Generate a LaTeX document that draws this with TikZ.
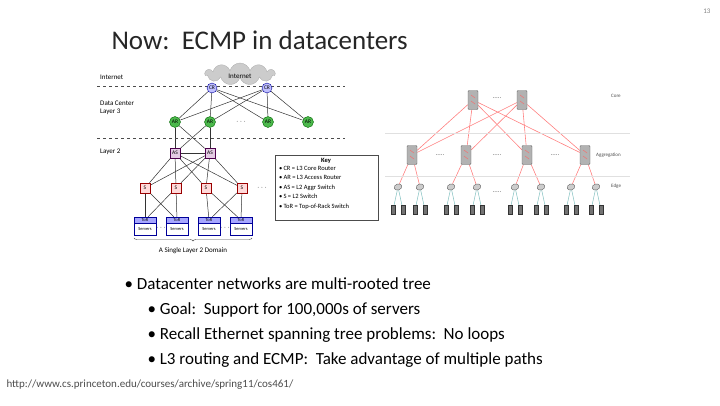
\documentclass[tikz,border=0pt]{standalone}
\usepackage{fontspec}
\setmainfont{Carlito}
\usetikzlibrary{shapes.geometric,shapes.symbols,decorations.pathreplacing,backgrounds}
\begin{document}
\begin{tikzpicture}[x=1pt,y=-1pt,
  lbl/.style={anchor=west,font=\fontsize{7}{8}\selectfont,inner sep=0},
  cr/.style={circle,draw=blue!60!black,fill=blue!25,minimum size=10,inner sep=0,font=\fontsize{5.5}{6}\selectfont},
  ar/.style={circle,draw=green!40!black,fill=green!60!black!70,minimum size=11,inner sep=0,font=\fontsize{5.5}{6}\selectfont},
  as/.style={rectangle,draw=violet!60!black,fill=violet!20,minimum size=10,inner sep=0,font=\fontsize{5.5}{6}\selectfont},
  sw/.style={rectangle,draw=red!60!black,fill=red!15,minimum size=10,inner sep=0,font=\fontsize{5.5}{6}\selectfont},
  tor/.style={rectangle,draw=blue!60!black,fill=white,minimum width=22,minimum height=18,inner sep=0},
  ln/.style={draw=black!80,line width=0.5},
  rl/.style={draw=red!50,line width=0.6},
  gl/.style={draw=teal!50,line width=0.5},
  rtr/.style={rectangle,rounded corners=1,draw=black!60,fill=black!30,minimum width=10,minimum height=19,inner sep=0},
  esw/.style={ellipse,draw=black!60,fill=black!20,minimum width=8,minimum height=6,inner sep=0,rotate=20},
  srv/.style={rectangle,draw=black!80,fill=black!55,minimum width=4,minimum height=9,inner sep=0},
  dots/.style={font=\fontsize{7}{8}\selectfont,inner sep=0},
  bul/.style={anchor=west,font=\fontsize{17}{20}\selectfont}]
\useasboundingbox (0,0) rectangle (720,405);
\node[anchor=north east,text=black!50,font=\fontsize{7}{8}\selectfont] (pg) at (714,5) {13};
\node[anchor=west,font=\fontsize{27}{30}\selectfont,text=black!85] (title) at (108,40) {Now:\ \ ECMP in datacenters};

% ---------- left diagram ----------
\node[cloud,cloud puffs=11,draw=black!30,fill=black!20,minimum width=70,minimum height=22,inner sep=0] (cloud) at (240,74) {};
\node[font=\fontsize{7}{8}\selectfont] (cloudt) at (240,76) {Internet};
\node[lbl] (linet) at (100,77) {Internet};
\node[lbl,align=left] (ldc) at (100,108) {Data Center\\Layer 3};
\node[lbl] (ll2) at (100,152) {Layer 2};
\coordinate (d1a) at (97,86); \coordinate (d1b) at (345,86);
\coordinate (d2a) at (97,138); \coordinate (d2b) at (345,138);
\draw[dashed,black!70] (d1a) -- (d1b);
\draw[dashed,black!70] (d2a) -- (d2b);
\node[cr] (cr1) at (212,88) {CR};
\node[cr] (cr2) at (267,88) {CR};
\foreach \x [count=\i] in {175,210,268,308} \node[ar] (ar\i) at (\x,122) {AR};
\node[dots] (ardots) at (241,122) {$\cdots$};
\node[as] (as1) at (175,153) {AS};
\node[as] (as2) at (210,153) {AS};
\foreach \x [count=\i] in {145,176,206,242} \node[sw] (s\i) at (\x,188) {S};
\node[dots] (sdots) at (262,188) {$\cdots$};
\foreach \x [count=\i] in {145,177,209,241} {
  \node[tor] (tor\i) at (\x,226) {};
  \node[rectangle,fill=blue!35,draw=blue!60!black,minimum width=22,minimum height=6,inner sep=0,anchor=north,font=\fontsize{4.5}{5}\selectfont] (torh\i) at (tor\i.north) {ToR};
  \node[font=\fontsize{4.5}{5}\selectfont,inner sep=0] (tors\i) at (\x,229) {Servers};
}
\node[dots] (tdots1) at (161,228) {$\cdots$};
\node[dots] (tdots2) at (225,228) {$\cdots$};
\begin{scope}[on background layer]
\foreach \c in {cr1,cr2} \foreach \a in {ar1,ar2,ar3,ar4} \draw[ln] (\c) -- (\a);
\foreach \a in {ar1,ar2} \foreach \b in {as1,as2} \draw[ln] (\a) -- (\b);
\draw[ln] (as1) -- (as2);
\foreach \b in {as1,as2} \foreach \s in {s1,s2,s3,s4} \draw[ln] (\b) -- (\s);
\draw[ln] (s1) -- (torh1); \draw[ln] (s1) -- (torh2);
\draw[ln] (s2) -- (torh1); \draw[ln] (s2) -- (torh2);
\draw[ln] (s3) -- (torh3); \draw[ln] (s3) -- (torh4);
\draw[ln] (s4) -- (torh3); \draw[ln] (s4) -- (torh4);
\end{scope}
\coordinate (bra) at (134,238); \coordinate (brb) at (252,238);
\draw[decorate,decoration={brace,mirror,amplitude=3},black!70] (bra) -- (brb);
\node[font=\fontsize{7}{8}\selectfont] (single) at (193,251) {A Single Layer 2 Domain};
\node[draw=black!70,fill=white,anchor=north west,minimum width=103,minimum height=65,inner sep=0] (key) at (275,155) {};
\node[font=\fontsize{6.5}{7}\selectfont\bfseries] (keyt) at (326,161) {Key};
\node[anchor=north west,align=left,font=\fontsize{6.5}{9.4}\selectfont,inner sep=0] (keyl) at (279,166) {%
•\,CR = L3 Core Router\\•\,AR = L3 Access Router\\•\,AS = L2 Aggr Switch\\•\,S = L2 Switch\\•\,ToR = Top-of-Rack Switch};

% ---------- right diagram ----------
\coordinate (g1a) at (385,133); \coordinate (g1b) at (630,133);
\coordinate (g2a) at (385,176); \coordinate (g2b) at (630,176);
\draw[black!12,line width=0.8] (g1a) -- (g1b);
\draw[black!12,line width=0.8] (g2a) -- (g2b);
\node[rtr] (c1) at (473,100) {};
\node[rtr] (c2) at (522,100) {};
\foreach \x [count=\i] in {412,466,527,585} \node[rtr] (ag\i) at (\x,155) {};
\foreach \x [count=\i] in {398,420,451,477,515,541,571,596} {
  \node[esw] (e\i) at (\x,187) {};
  \node[srv] (sa\i) at (\x-5,210) {};
  \node[srv] (sb\i) at (\x+5,210) {};
}
\begin{scope}[on background layer]
\foreach \c in {c1,c2} \foreach \a in {ag1,ag2,ag3,ag4} \draw[rl] (\c) -- (\a);
\foreach \a/\e in {ag1/e1,ag1/e2,ag2/e3,ag2/e4,ag3/e5,ag3/e6,ag4/e7,ag4/e8} \draw[rl] (\a) -- (\e);
\foreach \i in {1,...,8} {\draw[gl] (e\i) -- (sa\i); \draw[gl] (e\i) -- (sb\i);}
\end{scope}
\foreach \n in {c1,c2,ag1,ag2,ag3,ag4}
  \draw[red!60,line width=0.4] ([shift={(-2,-5)}]\n.center) -- ([shift={(2,-2)}]\n.center) ([shift={(-2,1)}]\n.center) -- ([shift={(2,4)}]\n.center);
\node[dots,black!60] (cd) at (497,98) {.....};
\node[dots,black!60] (ad1) at (440,155) {.....};
\node[dots,black!60] (ad2) at (497,155) {.....};
\node[dots,black!60] (ad3) at (555,155) {.....};
\node[dots,black!60] (ed) at (497,192) {.....};
\node[anchor=west,font=\fontsize{5}{6}\selectfont,text=black!70,inner sep=0] (lcore) at (611,96) {Core};
\node[anchor=west,font=\fontsize{5}{6}\selectfont,text=black!70,inner sep=0] (lagg) at (596,155) {Aggregation};
\node[anchor=west,font=\fontsize{5}{6}\selectfont,text=black!70,inner sep=0] (ledge) at (611,186) {Edge};

% ---------- bullets ----------
\node[bul] (b1) at (121,284) {•\ Datacenter networks are multi-rooted tree};
\node[bul] (b2) at (144,310) {•\ Goal:\ \ Support for 100,000s of servers};
\node[bul] (b3) at (144,335) {•\ Recall Ethernet spanning tree problems:\ \ No loops};
\node[bul] (b4) at (144,360) {•\ L3 routing and ECMP:\ \ Take advantage of multiple paths};
\node[anchor=west,font=\fontsize{11}{12}\selectfont,text=black!70] (url) at (3,385) {http://www.cs.princeton.edu/courses/archive/spring11/cos461/};
\end{tikzpicture}
\end{document}
